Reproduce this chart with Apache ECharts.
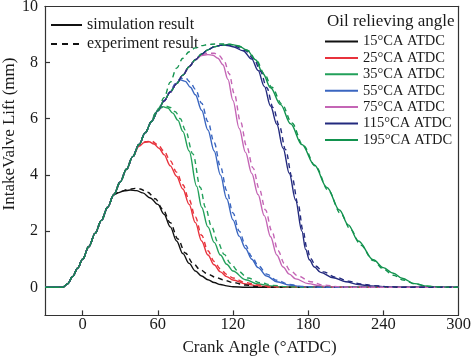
<!DOCTYPE html>
<html>
<head>
<meta charset="utf-8">
<script src="https://cdn.jsdelivr.net/npm/echarts@6/dist/echarts.min.js"></script>
<style>
html,body{margin:0;padding:0;background:#fff;}
#chart{width:474px;height:360px;}
</style>
</head>
<body>
<div id="chart"></div>
<script>
// ---------- DATA ----------
const xTickLabels = [0, 60, 120, 180, 240, 300];
const xTickMarks = [0, 60, 120, 180, 240];
const yTickLabels = [0, 2, 4, 6, 8, 10];
const yTickMarks = [2, 4, 6, 8];

const reliefAngles = ['15°CA ATDC', '25°CA ATDC', '35°CA ATDC', '55°CA ATDC', '75°CA ATDC', '115°CA ATDC', '195°CA ATDC'];

// common opening flank (crank angle, lift mm)
const envelope = [[-30,0],[-16,0],[-12,0.12],[-8,0.38],[-4,0.68],[0,1.0],[5,1.45],[10,1.92],[15,2.38],[20,2.85],[25,3.3],[30,3.75],[35,4.2],[40,4.65],[45,5.08],[50,5.5],[55,5.9],[60,6.28],[65,6.63],[70,6.95],[75,7.25],[80,7.55],[85,7.85],[90,8.1],[95,8.3],[100,8.45],[105,8.56],[110,8.61],[113,8.62]];

// simulation: closing part of each curve
const sim15 = [[28,3.36],[33,3.43],[38,3.46],[43,3.44],[48,3.36],[54,3.18],[60,2.95],[65,2.6],[70,2.15],[75,1.65],[80,1.2],[85,0.85],[90,0.58],[95,0.4],[100,0.27],[105,0.17],[110,0.1],[115,0.05],[120,0.02],[130,0],[300,0]];
const sim25 = [[45,5.02],[49,5.15],[53,5.18],[57,5.1],[61,4.95],[65,4.72],[70,4.32],[75,3.95],[80,3.5],[85,2.95],[90,2.3],[95,1.65],[100,1.15],[105,0.8],[110,0.55],[115,0.38],[120,0.26],[130,0.12],[140,0.05],[150,0.01],[160,0],[300,0]];
const sim35 = [[58,6.2],[61,6.38],[64,6.43],[68,6.38],[72,6.2],[76,5.95],[80,5.55],[85,4.85],[91,3.6],[95,2.85],[100,2.15],[105,1.6],[110,1.15],[115,0.82],[120,0.58],[130,0.27],[140,0.12],[150,0.05],[160,0.01],[170,0],[300,0]];
const sim55 = [[74,7.22],[78,7.38],[82,7.33],[86,7.12],[90,6.85],[95,6.3],[100,5.6],[105,4.85],[110,4.0],[115,3.15],[120,2.4],[125,1.82],[130,1.38],[135,1.0],[140,0.7],[147,0.4],[155,0.2],[165,0.08],[175,0.02],[185,0],[300,0]];
const sim75 = [[95,8.25],[100,8.28],[104,8.26],[108,8.15],[112,7.92],[116,7.4],[120,6.65],[125,5.65],[130,4.8],[135,4.05],[140,3.3],[145,2.55],[150,1.8],[155,1.15],[160,0.72],[165,0.47],[170,0.3],[180,0.13],[190,0.05],[200,0.01],[210,0],[300,0]];
const sim115 = [[116,8.6],[120,8.56],[128,8.42],[135,8.12],[140,7.72],[145,7.15],[150,6.45],[155,5.8],[160,4.95],[165,4.05],[170,3.1],[175,2.0],[178,1.35],[181,0.98],[185,0.72],[190,0.53],[200,0.34],[210,0.2],[220,0.1],[230,0.05],[240,0.02],[250,0],[300,0]];
const sim195 = [[117,8.65],[124,8.6],[131,8.45],[138,8.1],[144,7.6],[150,7.1],[158,6.5],[166,5.82],[175,5.08],[185,4.35],[195,3.55],[205,2.75],[212,2.22],[220,1.65],[232,0.98],[240,0.7],[248,0.5],[255,0.32],[265,0.13],[275,0.04],[285,0.01],[295,0],[300,0]];

// experiment: closing part of each curve
const exp15 = [[30,3.4],[36,3.48],[42,3.52],[46,3.5],[52,3.38],[58,3.15],[64,2.78],[70,2.3],[76,1.72],[82,1.22],[88,0.86],[94,0.62],[100,0.47],[106,0.36],[112,0.27],[120,0.17],[130,0.08],[140,0.02],[150,0],[300,0]];
const exp25 = [[45,5.05],[50,5.18],[55,5.2],[60,5.08],[65,4.85],[70,4.5],[75,4.1],[80,3.65],[85,3.12],[90,2.5],[95,1.85],[100,1.3],[105,0.92],[110,0.65],[115,0.46],[120,0.33],[130,0.17],[140,0.08],[150,0.03],[160,0.01],[170,0],[300,0]];
const exp35 = [[58,6.2],[62,6.38],[66,6.45],[70,6.4],[74,6.25],[78,6.0],[82,5.6],[88,4.75],[94,3.55],[98,2.85],[103,2.15],[108,1.6],[113,1.17],[118,0.85],[124,0.58],[132,0.33],[142,0.16],[152,0.07],[162,0.02],[175,0],[300,0]];
const exp55 = [[74,7.25],[78,7.42],[82,7.45],[86,7.3],[90,7.05],[95,6.55],[100,5.9],[105,5.15],[110,4.3],[115,3.45],[120,2.65],[125,2.0],[130,1.5],[135,1.1],[140,0.78],[147,0.47],[155,0.25],[165,0.1],[175,0.03],[190,0],[300,0]];
const exp75 = [[95,8.28],[100,8.33],[105,8.33],[109,8.25],[113,8.05],[117,7.6],[121,6.9],[126,5.9],[131,5.0],[136,4.25],[141,3.5],[146,2.75],[151,2.0],[156,1.3],[161,0.85],[166,0.58],[172,0.4],[182,0.2],[192,0.08],[205,0.02],[215,0],[300,0]];
const exp115 = [[116,8.62],[122,8.57],[130,8.42],[137,8.1],[142,7.68],[147,7.1],[152,6.4],[157,5.75],[162,4.9],[167,3.95],[172,2.95],[176,2.0],[179,1.4],[182,1.02],[186,0.76],[192,0.55],[202,0.36],[212,0.22],[222,0.12],[232,0.06],[245,0.02],[255,0],[300,0]];
const exp195 = [[65,6.75],[70,7.3],[75,7.8],[80,8.15],[85,8.38],[90,8.52],[95,8.6],[100,8.64],[106,8.66],[112,8.66],[118,8.64],[125,8.57],[132,8.42],[139,8.05],[145,7.6],[151,7.12],[159,6.52],[167,5.85],[176,5.05],[186,4.3],[196,3.45],[206,2.62],[214,2.05],[222,1.5],[232,0.95],[240,0.65],[248,0.43],[256,0.26],[265,0.12],[275,0.04],[285,0.01],[295,0],[300,0]];

const simCurves = [sim15, sim25, sim35, sim55, sim75, sim115, sim195];
const expCurves = [exp15, exp25, exp35, exp55, exp75, exp115, exp195];
const colors = ['#111111', '#e8323c', '#22a05a', '#3a66c0', '#c465b5', '#232a7e', '#12924e'];

// ---------- CHART ----------
const FONT = '"Liberation Serif", "Times New Roman", serif';
const TXT = '#1a1a1a';
const AX = '#333333';

function withRise(part) {
  const start = part[0][0];
  return envelope.filter(p => p[0] < start).concat(part);
}

const series = [];
simCurves.forEach((c, i) => {
  series.push({
    name: reliefAngles[i], type: 'line', data: withRise(c),
    symbol: 'none', showSymbol: false, smooth: 0.35, smoothMonotone: 'x',
    color: colors[i], lineStyle: { width: 1.4, color: colors[i], type: 'solid' },
    z: 3
  });
});
expCurves.forEach((c, i) => {
  series.push({
    name: reliefAngles[i] + ' exp', type: 'line', data: withRise(c),
    symbol: 'none', showSymbol: false, smooth: 0.35, smoothMonotone: 'x',
    color: colors[i], lineStyle: { width: 1.4, color: colors[i], type: [5, 4] },
    z: 4
  });
});
series.push({ name: 'simulation result', type: 'line', data: [], symbol: 'none', color: '#111', lineStyle: { width: 1.6, type: 'solid', color: '#111' } });
series.push({ name: 'experiment result', type: 'line', data: [], symbol: 'none', color: '#111', lineStyle: { width: 1.6, type: [6, 5], color: '#111' } });

const hiddenAxisParts = {
  axisLine: { show: true, onZero: false, lineStyle: { color: AX, width: 1.2 } },
  axisTick: { show: false }, axisLabel: { show: false }, splitLine: { show: false }
};

const chart = echarts.init(document.getElementById('chart'), null, { renderer: 'canvas' });
chart.setOption({
  animation: false,
  backgroundColor: '#ffffff',
  textStyle: { fontFamily: FONT, color: TXT },
  title: {
    text: 'Oil relieving angle', left: 327, top: 13, padding: 0,
    textStyle: { fontFamily: FONT, fontSize: 17, fontWeight: 'normal', color: TXT }
  },
  grid: {
    left: 45, right: 15.5, top: 6.3, bottom: 44.6,
    containLabel: false, outerBoundsMode: 'none', show: false
  },
  legend: [
    {
      data: ['simulation result', 'experiment result'],
      orient: 'vertical', left: 50, top: 17, padding: 0,
      itemWidth: 31, itemHeight: 14, itemGap: 3, selectedMode: false,
      itemStyle: { opacity: 0 },
      textStyle: { fontFamily: FONT, fontSize: 16, color: TXT }
    },
    {
      data: reliefAngles,
      orient: 'vertical', left: 324, top: 34, padding: 0,
      itemWidth: 33, itemHeight: 12, itemGap: 1.4, selectedMode: false,
      itemStyle: { opacity: 0 },
      textStyle: { fontFamily: FONT, fontSize: 14.5, color: TXT }
    }
  ],
  xAxis: [
    {
      type: 'value', min: -30, max: 300, position: 'bottom',
      axisLine: { show: true, onZero: false, lineStyle: { color: AX, width: 1.2 } },
      axisTick: { show: true, inside: true, length: 5, customValues: xTickMarks, lineStyle: { color: AX, width: 1.2 } },
      axisLabel: { show: true, customValues: xTickLabels, margin: 1, fontSize: 16.5, fontFamily: FONT, color: TXT },
      splitLine: { show: false }
    },
    Object.assign({ type: 'value', min: -30, max: 300, position: 'top' }, hiddenAxisParts)
  ],
  yAxis: [
    {
      type: 'value', min: -1, max: 10, position: 'left',
      axisLine: { show: true, onZero: false, lineStyle: { color: AX, width: 1.2 } },
      axisTick: { show: true, inside: true, length: 5, customValues: yTickMarks, lineStyle: { color: AX, width: 1.2 } },
      axisLabel: { show: true, customValues: yTickLabels, margin: 7, fontSize: 16, fontFamily: FONT, color: TXT },
      splitLine: { show: false }
    },
    Object.assign({ type: 'value', min: -1, max: 10, position: 'right' }, hiddenAxisParts)
  ],
  graphic: [
    { type: 'text', x: 259.5, y: 348, style: { text: 'Crank Angle (°ATDC)', fontFamily: FONT, fontSize: 17, fill: TXT, align: 'center', verticalAlign: 'middle' } },
    { type: 'text', x: 10, y: 134, rotation: Math.PI / 2, style: { text: 'IntakeValve Lift (mm)', fontFamily: FONT, fontSize: 17, fill: TXT, align: 'center', verticalAlign: 'middle' } }
  ],
  series: series
});
</script>
</body>
</html>
